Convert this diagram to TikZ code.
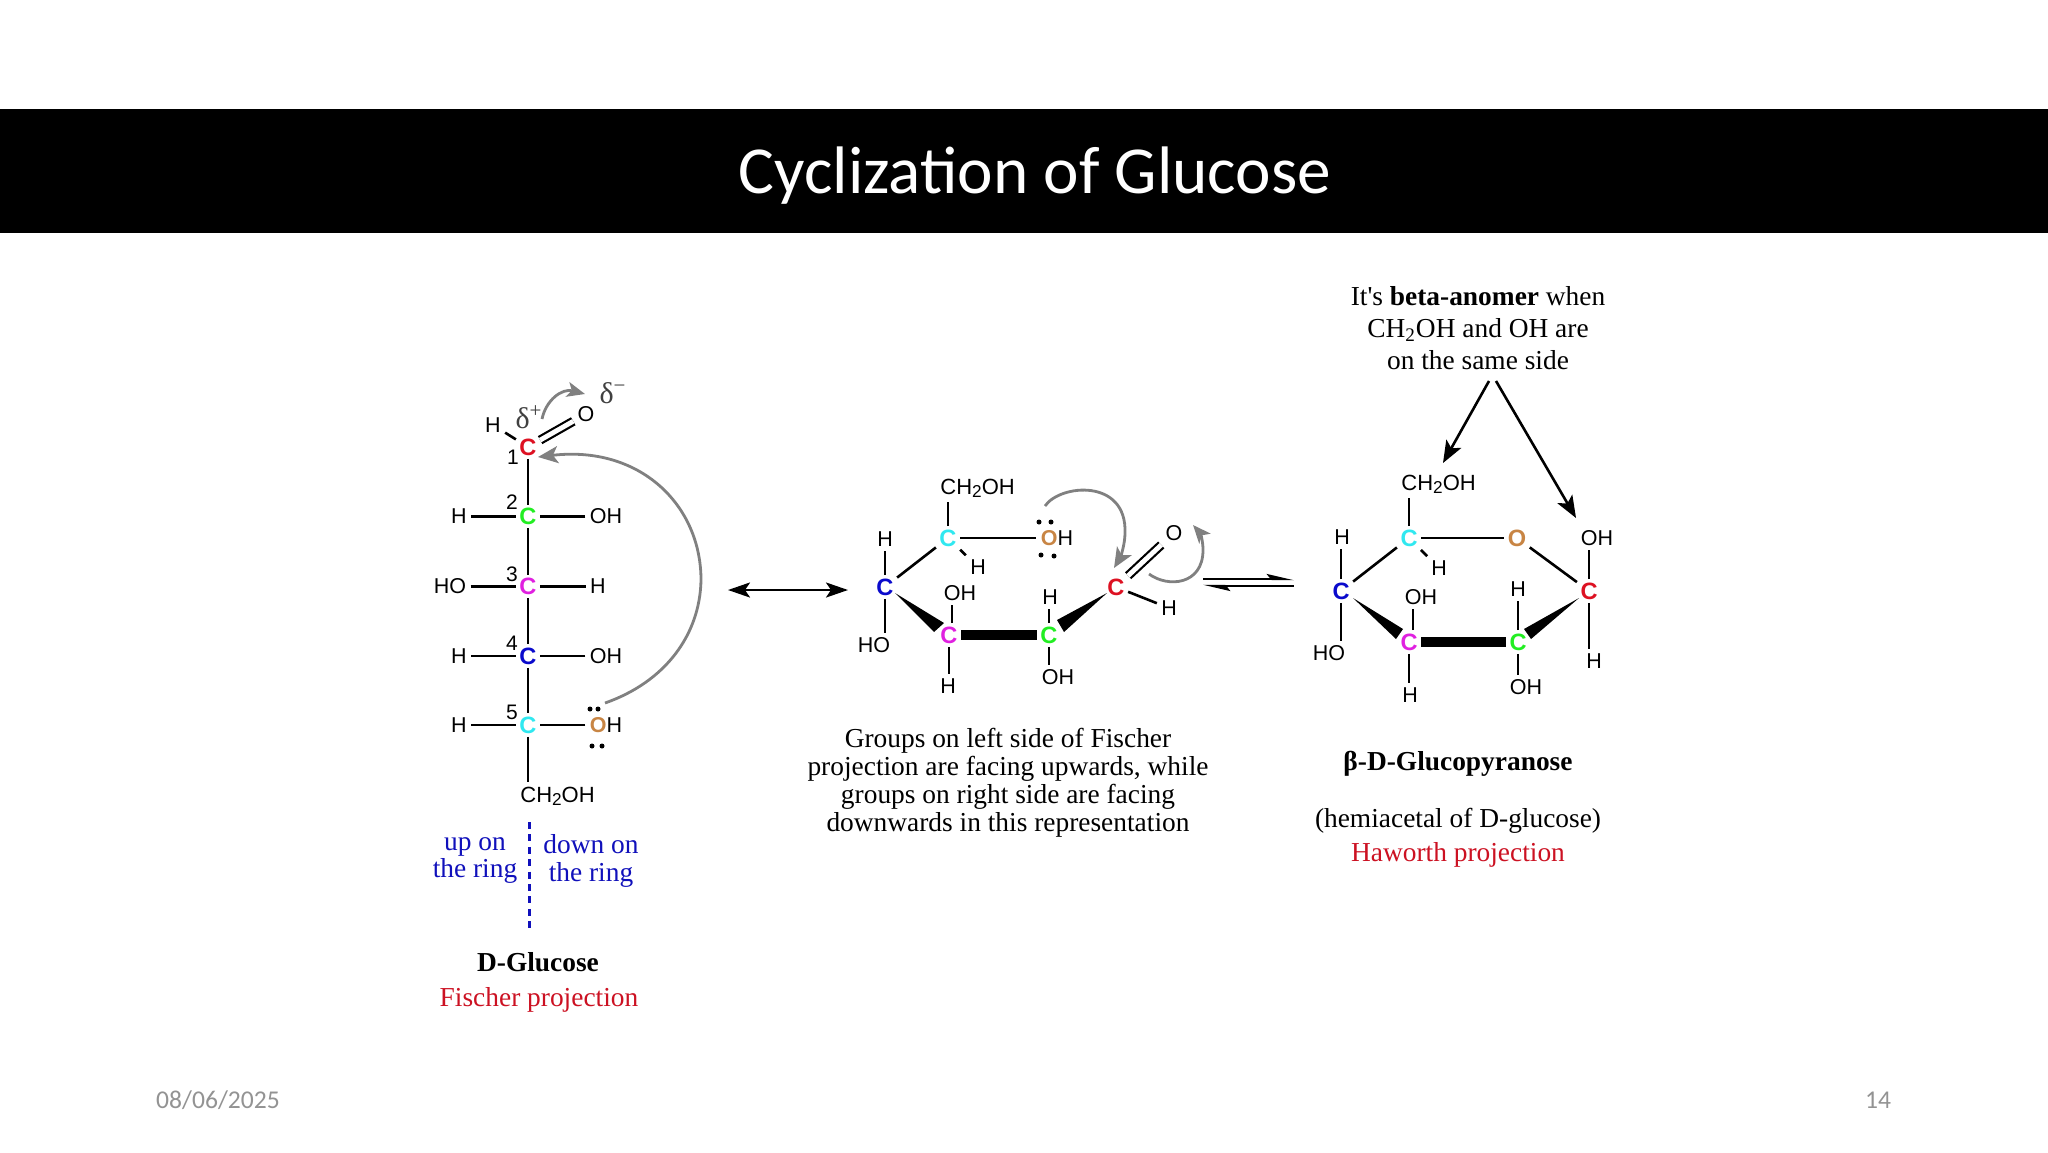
\documentclass[tikz,border=0pt]{standalone}
\usepackage{fontspec}
\usetikzlibrary{arrows.meta,calc}
\setmainfont{Liberation Serif}
\newfontfamily\plainserif{Liberation Serif}
\newfontfamily\arialf{Liberation Sans}
\newfontfamily\calf{Carlito}
\definecolor{cred}{HTML}{DD1122}
\definecolor{cgreen}{HTML}{22EE22}
\definecolor{cmag}{HTML}{E020E0}
\definecolor{cblue}{HTML}{0A0ACC}
\definecolor{ccyan}{HTML}{30E8F0}
\definecolor{corange}{HTML}{C88544}
\definecolor{cgrey}{HTML}{808080}
\definecolor{tred}{HTML}{CC1122}
\definecolor{tblue}{HTML}{1010BB}
\newcommand{\sbt}{\raisebox{-1.6pt}{\fontsize{8.6}{9}\selectfont 2}}
\tikzset{
  x=0.5pt,y=-0.5pt,
  lab/.style={font=\arialf\fontsize{10.75}{12}\selectfont,inner sep=2pt},
  atom/.style={font=\arialf\bfseries\fontsize{11.8}{12}\selectfont,inner sep=1.6pt,text=#1},
  num/.style={font=\arialf\fontsize{10.5}{12}\selectfont,inner sep=0pt},
  chain/.style={lab,anchor=base west,font=\arialf\fontsize{11}{12}\selectfont},
  serif/.style={font=\fontsize{13.7}{14}\selectfont,inner sep=0pt,align=center},
  bond/.style={draw=black,line width=1.3pt},
  bondd/.style={draw=black,line width=1.1pt,double=white,double distance=2.4pt},
  bar/.style={draw=black,line width=4.8pt},
  curly/.style={draw=cgrey,line width=1.4pt,-{Stealth[length=10pt,width=8.5pt,inset=2.5pt]}},
  curlys/.style={draw=cgrey,line width=1.4pt,-{Stealth[length=9pt,width=7.5pt,inset=2.2pt]}},
  note/.style={draw=black,line width=1.3pt,-{Stealth[length=11pt,width=8.5pt,inset=2.5pt]}},
  twohead/.style={draw=black,line width=1.2pt,{Stealth[length=11pt,width=7.5pt,inset=2.5pt]}-{Stealth[length=11pt,width=7.5pt,inset=2.5pt]}},
  harpup/.style={draw=black,line width=1.2pt,-{Stealth[length=11pt,width=5pt,inset=2pt,harpoon]}},
  harpdn/.style={draw=black,line width=1.2pt,{Stealth[length=11pt,width=5pt,inset=2pt,harpoon]}-},
  wedge/.style={fill=black,draw=none},
  lonep/.style={fill=black,draw=none}
}
\begin{document}
\begin{tikzpicture}
\useasboundingbox (0,0) rectangle (2048,1152);
\fill[white] (0,0) rectangle (2048,1152);
\fill[black] (0,109) rectangle (2048,233);
\node[font=\calf\fontsize{33.6}{38}\selectfont,text=white,inner sep=0pt] (title) at (1035,176) {Cyclization of Glucose};
\node[font=\calf\fontsize{12.8}{14}\selectfont,text=cgrey!85,inner sep=0pt] (date) at (218,1100) {08/06/2025};
\node[font=\calf\fontsize{12.8}{14}\selectfont,text=cgrey!85,inner sep=0pt] (page) at (1878,1100) {14};

%% Fischer
\node[atom=cred] (f1) at (528,447) {C};
\node[atom=cgreen] (f2) at (528,516.5) {C};
\node[atom=cmag] (f3) at (528,586.5) {C};
\node[atom=cblue] (f4) at (528,656) {C};
\node[atom=ccyan] (f5) at (528,725) {C};
\node[lab] (fh1) at (493,425) {H};
\node[lab] (fo1) at (586,414) {O};
\node[lab] (fh2) at (459,516.5) {H};
\node[lab] (foh2) at (606,516.5) {OH};
\node[lab] (fho3) at (450,586.5) {HO};
\node[lab] (fh3) at (598,586.5) {H};
\node[lab] (fh4) at (459,656) {H};
\node[lab] (foh4) at (606,656) {OH};
\node[lab] (fh5) at (459,725) {H};
\node[lab] (foh5) at (606,725) {\textcolor{corange}{\textbf{O}}H};
\node[chain] (fch) at (516,802) {CH\sbt OH};
\node[num] (n1) at (513,457) {1};
\node[num] (n2) at (512,502) {2};
\node[num] (n3) at (512,574) {3};
\node[num] (n4) at (512,643) {4};
\node[num] (n5) at (512,712) {5};
\node[serif,text=black!75,font=\fontsize{15}{16}\selectfont] (dp) at (529,417) {δ\textsuperscript{+}};
\node[serif,text=black!75,font=\fontsize{15}{16}\selectfont] (dm) at (613,393) {δ\textsuperscript{−}};
\draw[bond] (f1)--(f2);\draw[bond] (f2)--(f3);\draw[bond] (f3)--(f4);\draw[bond] (f4)--(f5);
\draw[bond] (f5)--(f5 |- fch.north);
\draw[bond] (fh1)--(f1);
\draw[bondd] (f1)--(fo1);
\foreach \a/\b in {fh2/f2,foh2/f2,fho3/f3,fh3/f3,fh4/f4,foh4/f4,fh5/f5,foh5/f5}{\draw[bond] (\a)--(\b);}
\foreach \p in {(590,709),(598,709),(592,746),(602,746)}{\fill[lonep] \p circle[radius=1.25pt];}
\coordinate (a1s) at (605,703);\coordinate (a1m) at (701,580);\coordinate (a1e) at (538,457);
\draw[curly] (a1s) .. controls (665,682) and (700,635) .. (a1m) .. controls (701,505) and (640,445) .. (a1e);
\coordinate (a2s) at (542,419);\coordinate (a2e) at (585,394);
\draw[curlys] (a2s) .. controls (546,400) and (562,388) .. (a2e);
\coordinate (dt) at (529,822);\coordinate (db) at (529,929);
\draw[draw=tblue,line width=1.5pt,dash pattern=on 3.5pt off 2.7pt] (dt)--(db);
\node[serif,text=tblue,font=\fontsize{13.7}{13.5}\selectfont] (up) at (475,860) {up on\\the ring};
\node[serif,text=tblue,font=\fontsize{13.7}{14}\selectfont] (down) at (591,861) {down on\\the ring};
\node[serif,font=\bfseries\fontsize{13.7}{14}\selectfont] (dg) at (538,962) {D-Glucose};
\node[serif,text=tred] (fp) at (539,1000) {Fischer projection};

%% resonance arrow
\coordinate (ta) at (728,590);\coordinate (tb) at (848,590);
\draw[twohead] (ta)--(tb);

%% Middle structure
\node[atom=cblue] (m1) at (885,587) {C};
\node[atom=ccyan] (m2) at (948,538) {C};
\node[atom=cmag] (m3) at (949,635) {C};
\node[atom=cgreen] (m4) at (1049,635) {C};
\node[atom=cred] (m5) at (1116,587) {C};
\node[chain] (mch) at (936,494) {CH\sbt OH};
\node[lab] (moh) at (1057,538) {\textcolor{corange}{\textbf{O}}H};
\node[lab] (mh1) at (885,539) {H};
\node[lab] (mho1) at (874,645) {HO};
\node[lab] (mh2) at (978,567) {H};
\node[lab] (moh3) at (960,593) {OH};
\node[lab] (mh3) at (948,686) {H};
\node[lab] (mh4) at (1050,597) {H};
\node[lab] (moh4) at (1058,677) {OH};
\node[lab] (mo5) at (1174,533) {O};
\node[lab] (mh5) at (1169,608) {H};
\draw[bond] (m2)--(m2 |- mch.south);
\draw[bond] (m1)--(m1 |- mh1.south);
\draw[bond] (m1)--(m1 |- mho1.north);
\draw[bond] (m1)--(m2);
\draw[bond] (m2)--(moh);
\draw[bond] (m2)--(mh2);
\draw[bond] ([xshift=1.5pt]m3.north)--([xshift=1.5pt]m3.north |- moh3.south);
\draw[bond] (m3)--(m3 |- mh3.north);
\draw[bond] (m4)--(m4 |- mh4.south);
\draw[bond] (m4)--(m4 |- moh4.north);
\draw[bondd] (m5)--(mo5);
\draw[bond] (m5)--(mh5);
\draw[bar] (m3)--(m4);
\coordinate (mw1a) at (895,593);\coordinate (mw1b) at (944,623);\coordinate (mw1c) at (934,632);
\fill[wedge] (mw1a)--(mw1b)--(mw1c)--cycle;
\coordinate (mw2a) at (1107,593);\coordinate (mw2b) at (1057,620);\coordinate (mw2c) at (1064,632);
\fill[wedge] (mw2a)--(mw2b)--(mw2c)--cycle;
\foreach \p in {(1039,522),(1051,522),(1041,555),(1054,556)}{\fill[lonep] \p circle[radius=1.25pt];}
\coordinate (a3s) at (1045,506);\coordinate (a3m) at (1125,533);\coordinate (a3e) at (1114,568);
\draw[curly] (a3s) .. controls (1060,484) and (1127,478) .. (a3m) .. controls (1125,545) and (1120,558) .. (a3e);
\coordinate (a4s) at (1149,574);\coordinate (a4m) at (1203,550);\coordinate (a4e) at (1193,525);
\draw[curlys] (a4s) .. controls (1168,588) and (1203,585) .. (a4m) .. controls (1203,540) and (1200,533) .. (a4e);

%% equilibrium arrows
\coordinate (e1a) at (1203,579);\coordinate (e1b) at (1294,579);
\coordinate (e2a) at (1203,586);\coordinate (e2b) at (1294,586);
\draw[harpup] (e1a)--(e1b);
\draw[harpdn] (e2a)--(e2b);

%% Right structure
\node[atom=ccyan] (b2) at (1409,538) {C};
\node[atom=corange] (bo) at (1517,538) {O};
\node[atom=cred] (b5) at (1589,591) {C};
\node[atom=cblue] (b1) at (1341,591) {C};
\node[atom=cmag] (b3) at (1409,642) {C};
\node[atom=cgreen] (b4) at (1518,642) {C};
\node[chain] (bch) at (1397,490) {CH\sbt OH};
\node[lab] (bh1) at (1342,537) {H};
\node[lab] (bho1) at (1329,653) {HO};
\node[lab] (bh2) at (1439,568) {H};
\node[lab] (boh5) at (1597,538) {OH};
\node[lab] (bh5) at (1594,661) {H};
\node[lab] (boh3) at (1421,597) {OH};
\node[lab] (bh3) at (1410,695) {H};
\node[lab] (bh4) at (1518,589) {H};
\node[lab] (boh4) at (1526,687) {OH};
\draw[bond] (b2)--(b2 |- bch.south);
\draw[bond] (b1)--(b1 |- bh1.south);
\draw[bond] (b1)--(b1 |- bho1.north);
\draw[bond] (b1)--(b2);
\draw[bond] (b2)--(bo);
\draw[bond] (b2)--(bh2);
\draw[bond] (bo)--(b5);
\draw[bond] (b5)--(b5 |- boh5.south);
\draw[bond] (b5)--(b5 |- bh5.north);
\draw[bond] ([xshift=2pt]b3.north)--([xshift=2pt]b3.north |- boh3.south);
\draw[bond] (b3)--(b3 |- bh3.north);
\draw[bond] (b4)--(bh4);
\draw[bond] (b4)--(b4 |- boh4.north);
\draw[bar] (b3)--(b4);
\coordinate (bw1a) at (1353,598);\coordinate (bw1b) at (1403,629);\coordinate (bw1c) at (1396,639);
\fill[wedge] (bw1a)--(bw1b)--(bw1c)--cycle;
\coordinate (bw2a) at (1579,598);\coordinate (bw2b) at (1524,629);\coordinate (bw2c) at (1531,639);
\fill[wedge] (bw2a)--(bw2b)--(bw2c)--cycle;

%% texts
\node[serif,font=\fontsize{13.7}{16}\selectfont] (anom) at (1478,328) {It{\plainserif '}s \textbf{beta-anomer} when\\CH\textsubscript{2}OH and OH are\\on the same side};
\coordinate (na1) at (1489,381);\coordinate (na2) at (1443,463);
\coordinate (nb1) at (1496,381);\coordinate (nb2) at (1576,518);
\draw[note] (na1)--(na2);
\draw[note] (nb1)--(nb2);
\node[serif] (grp) at (1008,783) {Groups on left side of Fischer\\projection are facing upwards, while\\groups on right side are facing\\downwards in this representation};
\node[serif,font=\bfseries\fontsize{13.7}{14}\selectfont] (bdg) at (1458,764) {β-D-Glucopyranose};
\node[serif] (hemi) at (1458,821) {(hemiacetal of D-glucose)};
\node[serif,text=tred] (hw) at (1458,855) {Haworth projection};
\end{tikzpicture}
\end{document}
